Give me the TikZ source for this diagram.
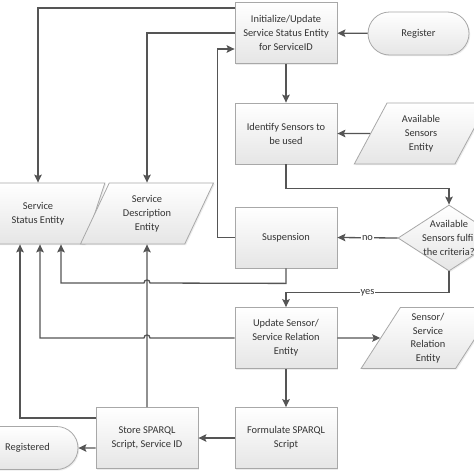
\documentclass[tikz,border=0pt]{standalone}
\usepackage{fontspec}
\setmainfont{Carlito}
\usetikzlibrary{shapes.geometric,shapes.misc,arrows.meta,shadows}
\definecolor{txt}{HTML}{333333}
\definecolor{edge}{HTML}{555555}
\definecolor{bord}{HTML}{A8A8A8}
\begin{document}
\begin{tikzpicture}[x=1pt,y=-1pt,
  base/.style={draw=bord, line width=0.8pt, top color=white, bottom color=black!10,
    text=txt, font=\fontsize{10.4}{14}\selectfont, align=center, inner sep=0pt,
    drop shadow={shadow xshift=1.2pt, shadow yshift=-1.2pt, opacity=0.15}},
  proc/.style={base, rectangle, minimum width=102pt, minimum height=61pt},
  io/.style={base, trapezium, trapezium left angle=63.5, trapezium right angle=116.5,
    trapezium stretches, minimum width=134pt, minimum height=61pt},
  term/.style={base, rounded rectangle, minimum width=101pt, minimum height=43pt},
  dec/.style={base, diamond, minimum width=102pt, minimum height=66pt},
  dtext/.style={text=txt, font=\fontsize{10.4}{14}\selectfont, align=center, inner sep=0pt},
  lbl/.style={fill=white, text=txt, font=\fontsize{10.4}{11}\selectfont, inner sep=1pt},
  conn/.style={draw=edge, line width=1.3pt, -{Stealth[length=8pt,width=7.5pt,inset=1.5pt]}}
]
\useasboundingbox (0,0) rectangle (474,474);
\fill[white] (0,0) rectangle (474,474);
\clip (0,0) rectangle (474,474);

\node[term] (reg) at (418.5,33.5) {Register};
\node[proc] (init) at (286,33) {Initialize/Update\\Service Status Entity\\for ServiceID};
\node[proc] (ident) at (286,133.5) {Identify Sensors to\\be used};
\node[io] (avail) at (421,133.5) {Available\\Sensors\\Entity};
\node[dec] (crit) at (449,238) {};
\node[dtext] (critt) at (449,238) {Available\\Sensors fulfil\\the criteria?};
\node[proc] (susp) at (286,237.5) {Suspension};
\node[proc] (upd) at (286,338) {Update Sensor/\\Service Relation\\Entity};
\node[io, font=\fontsize{10.4}{13.5}\selectfont] (ssr) at (428,338) {Sensor/\\Service\\Relation\\Entity};
\node[proc] (form) at (286,438) {Formulate SPARQL\\Script};
\node[proc] (store) at (147,438) {Store SPARQL\\Script, Service ID};
\node[term] (regd) at (27.5,448) {Registered};
\node[io] (sse) at (38,213.5) {Service\\Status Entity};
\node[io] (sde) at (147,213.5) {Service\\Description\\Entity};

\draw[conn] (reg) -- (init);
\draw[conn] (init) -- (ident);
\draw[conn] (avail) -- (ident);
\draw[conn] (ident.south) -- ++(0,24) -| (crit.north);
\draw[conn] (crit.west) -- node[lbl]{no} (susp.east);
\draw[conn] (crit.south) -- ++(0,21) -| node[lbl, pos=0.25]{yes} (upd.north);
\draw[conn] (upd) -- (ssr);
\draw[conn] (upd) -- (form);
\draw[conn] (form) -- (store);
\draw[conn] ([yshift=-10pt]store.west) -- (regd);
\draw[conn] (store.north) -- (sde.south);
\draw[conn] ([yshift=20pt]store.west) -| ([xshift=-18pt]sse.south);
\draw[conn] (upd.west) -- (150,338) .. controls (150,334) and (144,334) .. (144,338) -| ([xshift=2pt]sse.south);
\draw[conn] (susp.south) -- ++(0,15) -- (150,283) .. controls (150,279) and (144,279) .. (144,283) -| ([xshift=23pt]sse.south);
\draw[conn] (susp.west) -- ++(-17,0) |- ([yshift=-16pt]init.west);
\draw[conn] ([yshift=25pt]init.west) -| (sse.north);
\draw[conn] (init.west) -| (sde.north);
\end{tikzpicture}
\end{document}
